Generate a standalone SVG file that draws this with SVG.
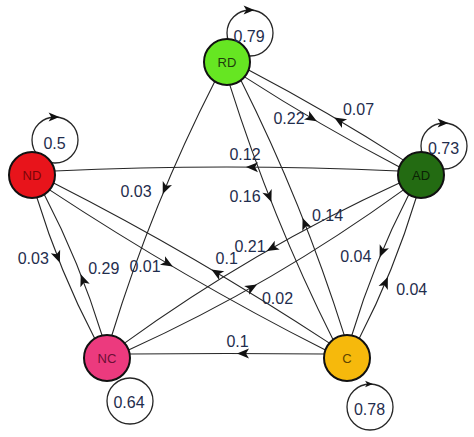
<svg xmlns="http://www.w3.org/2000/svg" xmlns:xlink="http://www.w3.org/1999/xlink" width="474" height="437" viewBox="0 0 474 437">
<defs>
<path id="ah" d="M6,0 L-6,-5 L-3,0 L-6,5 Z" fill="#111"/>
<style>
.edge path{fill:none;stroke:#262626;stroke-width:1.1}
.loop{fill:none;stroke:#262626;stroke-width:1.3}
.lbl{font-family:"Liberation Sans",Arial,sans-serif;font-size:16px;fill:#1f2d4d;text-anchor:middle}
.node circle{stroke:#111;stroke-width:2}
.nlbl{font-family:"Liberation Sans",Arial,sans-serif;font-size:13px;text-anchor:middle}
</style>
</defs>
<rect width="474" height="437" fill="#fff"/>
<g id="connectors">
<g id="e-RD-AD" class="edge"><g transform="translate(227,62) rotate(30.22)"><path d="M22.65,4 Q112.25,8 201.85,4"/><use href="#ah" transform="translate(101.5,5.97) rotate(0.3)"/></g></g>
<g id="e-AD-RD" class="edge"><g transform="translate(421,175) rotate(210.22)"><path d="M22.65,4 Q112.25,8 201.85,4"/><use href="#ah" transform="translate(97.9,5.95) rotate(0.4)"/></g></g>
<g id="e-RD-NC" class="edge"><g transform="translate(227,62) rotate(112.07)"><path d="M22.65,4 Q159.7,16 296.75,4"/><use href="#ah" transform="translate(140.5,9.88) rotate(0.7)"/></g></g>
<g id="e-RD-C" class="edge"><g transform="translate(227,62) rotate(67.93)"><path d="M22.2,6 Q159.7,17 297.2,6"/><use href="#ah" transform="translate(140.45,11.39) rotate(0.64)"/></g></g>
<g id="e-C-RD" class="edge"><g transform="translate(347,358) rotate(247.93)"><path d="M22.2,6 Q159.7,17 297.2,6"/><use href="#ah" transform="translate(140.45,11.39) rotate(0.64)"/></g></g>
<g id="e-AD-ND" class="edge"><g transform="translate(421,175) rotate(180)"><path d="M22.65,4 Q194.5,12 366.35,4"/><use href="#ah" transform="translate(169,7.91) rotate(0.4)"/></g></g>
<g id="e-ND-NC" class="edge"><g transform="translate(32,175) rotate(67.71)"><path d="M22.65,4 Q98.9,11 175.15,4"/><use href="#ah" transform="translate(85.7,7.39) rotate(0.9)"/></g></g>
<g id="e-NC-ND" class="edge"><g transform="translate(107,358) rotate(247.71)"><path d="M22.65,4 Q98.9,11 175.15,4"/><use href="#ah" transform="translate(81.4,7.32) rotate(1.2)"/></g></g>
<g id="e-ND-C" class="edge"><g transform="translate(32,175) rotate(30.16)"><path d="M22.65,4 Q182.15,13 341.65,4"/><use href="#ah" transform="translate(161.8,8.42) rotate(0.4)"/></g></g>
<g id="e-C-ND" class="edge"><g transform="translate(347,358) rotate(210.16)"><path d="M22.65,4 Q182.15,13 341.65,4"/><use href="#ah" transform="translate(155.7,8.38) rotate(0.5)"/></g></g>
<g id="e-AD-NC" class="edge"><g transform="translate(421,175) rotate(149.77)"><path d="M22.65,4 Q181.7,20 340.75,4"/><use href="#ah" transform="translate(165.5,11.92) rotate(0.6)"/></g></g>
<g id="e-NC-AD" class="edge"><g transform="translate(107,358) rotate(-30.23)"><path d="M22.65,4 Q181.7,20 340.75,4"/><use href="#ah" transform="translate(160.7,11.85) rotate(0.76)"/></g></g>
<g id="e-C-NC" class="edge"><g transform="translate(347,358) rotate(180)"><path d="M22.65,4 Q120,5 217.35,4"/><use href="#ah" transform="translate(104,4.48) rotate(0.1)"/></g></g>
<g id="e-AD-C" class="edge"><g transform="translate(421,175) rotate(112.02)"><path d="M22.65,4 Q98.7,11 174.75,4"/><use href="#ah" transform="translate(85.8,7.4) rotate(0.9)"/></g></g>
<g id="e-C-AD" class="edge"><g transform="translate(347,358) rotate(-67.98)"><path d="M22.65,4 Q98.7,11 174.75,4"/><use href="#ah" transform="translate(84.5,7.38) rotate(1)"/></g></g>
<g id="loops">
<circle class="loop" cx="250" cy="33" r="23"/><use href="#ah" transform="translate(249,10) scale(0.9)"/>
<circle class="loop" cx="444" cy="146" r="23"/><use href="#ah" transform="translate(443,123) scale(0.9)"/>
<circle class="loop" cx="55" cy="140" r="23"/><use href="#ah" transform="translate(54,117) scale(0.9)"/>
<circle class="loop" cx="130" cy="401" r="23"/>
<circle class="loop" cx="370" cy="407" r="23"/><use href="#ah" transform="translate(369,384) scale(0.65)"/>
</g>
</g>
<g id="node-RD" class="node"><circle cx="227" cy="62" r="23" fill="#66e622"/><text class="nlbl" x="227" y="66.7" fill="#1f3d0c">RD</text></g>
<g id="node-AD" class="node"><circle cx="421" cy="175" r="23" fill="#236b12"/><text class="nlbl" x="421" y="179.7" fill="#0b2205">AD</text></g>
<g id="node-ND" class="node"><circle cx="32" cy="175" r="23" fill="#e8141b"/><text class="nlbl" x="32" y="179.7" fill="#7a0508">ND</text></g>
<g id="node-NC" class="node"><circle cx="107" cy="358" r="23" fill="#ec3a7e"/><text class="nlbl" x="107" y="362.7" fill="#6b0f35">NC</text></g>
<g id="node-C" class="node"><circle cx="347" cy="358" r="23" fill="#f6b90c"/><text class="nlbl" x="347" y="362.7" fill="#5e4500">C</text></g>
<g id="labels" class="lbl">
<text x="249" y="41.7">0.79</text>
<text x="443.5" y="153.7">0.73</text>
<text x="54.5" y="148.7">0.5</text>
<text x="129" y="407.7">0.64</text>
<text x="369.5" y="414.7">0.78</text>
<text x="289" y="124">0.22</text>
<text x="358.5" y="114.5">0.07</text>
<text x="136" y="197.4">0.03</text>
<text x="245" y="202">0.16</text>
<text x="327.5" y="220.7">0.14</text>
<text x="245" y="160.2">0.12</text>
<text x="33.3" y="263.5">0.03</text>
<text x="103.8" y="273.5">0.29</text>
<text x="145" y="272">0.01</text>
<text x="226.7" y="264">0.1</text>
<text x="250" y="252.4">0.21</text>
<text x="277.5" y="304">0.02</text>
<text x="237.5" y="346.5">0.1</text>
<text x="355.8" y="261.7">0.04</text>
<text x="411.7" y="295">0.04</text>
</g>
</svg>
